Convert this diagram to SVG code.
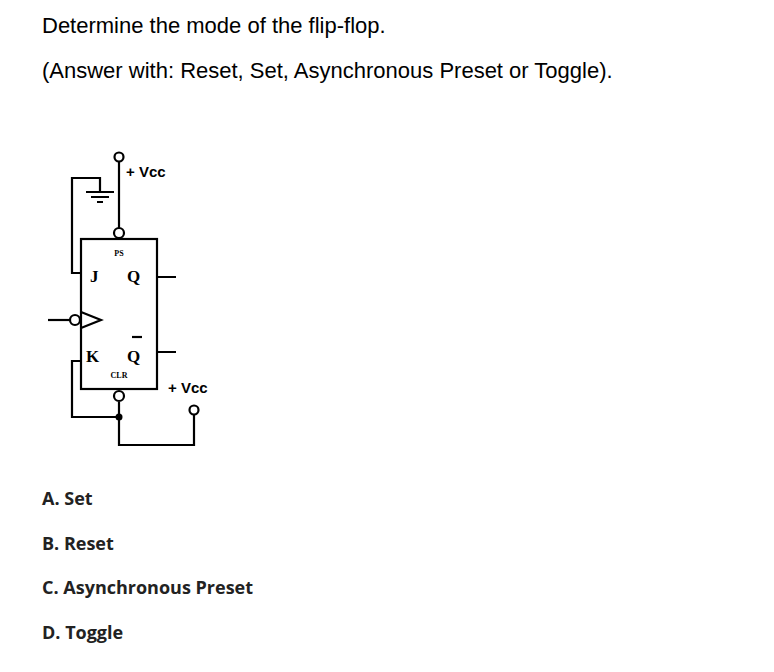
<svg xmlns="http://www.w3.org/2000/svg" width="774" height="672" viewBox="0 0 774 672">
<style>
.w{fill:none;stroke:#000;stroke-width:2.2}
.b{fill:#fff;stroke:#000;stroke-width:2.2}
.t{font-family:"Liberation Sans",Arial,sans-serif;font-size:22px;fill:#000}
.s{font-family:"Liberation Serif",serif;font-weight:bold;fill:#000}
.v{font-family:"Liberation Sans",Arial,sans-serif;font-weight:bold;font-size:15px}
.o{font-family:"Open Sans","Noto Sans",sans-serif;font-weight:bold;font-size:18px;fill:#222}
</style>
<rect width="774" height="672" fill="#fff"/>
<text class="t" x="42" y="33">Determine the mode of the flip-flop.</text>
<text class="t" x="42" y="78">(Answer with: Reset, Set, Asynchronous Preset or Toggle).</text>
<g id="connectors">
<path class="w" d="M119 162V228"/>
<path class="w" d="M81 273H72V178H100V192"/>
<path class="w" d="M86 192H114M91 197H109M97 202H103"/>
<path class="w" d="M157 277H176M157 352H176"/>
<path class="w" d="M48 320H69"/>
<path class="w" d="M81 361H72V417H119M119 402V445H194V415"/>
</g>
<g id="ff">
<rect class="w" x="81" y="239" width="76" height="150"/>
<path class="w" d="M81 312L101 320L81 328"/>
<circle class="b" cx="75" cy="320" r="5"/>
<circle class="b" cx="119" cy="233" r="5"/>
<circle class="b" cx="119" cy="396" r="5"/>
<text class="s" x="119" y="256" font-size="8" text-anchor="middle">PS</text>
<text class="s" x="119" y="378" font-size="8" text-anchor="middle">CLR</text>
<text class="s" x="90" y="282" font-size="17">J</text>
<text class="s" x="127" y="282" font-size="17">Q</text>
<text class="s" x="86" y="362" font-size="17">K</text>
<text class="s" x="127" y="362" font-size="17">Q</text>
<path class="w" d="M132 337H142"/>
</g>
<g id="vcc1"><circle class="b" cx="119" cy="157" r="4.5"/><text class="v" x="126" y="177">+ Vcc</text></g>
<g id="vcc2"><circle class="b" cx="194" cy="410" r="4.5"/><text class="v" x="168" y="393">+ Vcc</text></g>
<circle cx="119" cy="417" r="3.5"/>
<text class="o" x="42" y="505">A. Set</text>
<text class="o" x="42" y="550">B. Reset</text>
<text class="o" x="42" y="594">C. Asynchronous Preset</text>
<text class="o" x="42" y="639">D. Toggle</text>
</svg>
